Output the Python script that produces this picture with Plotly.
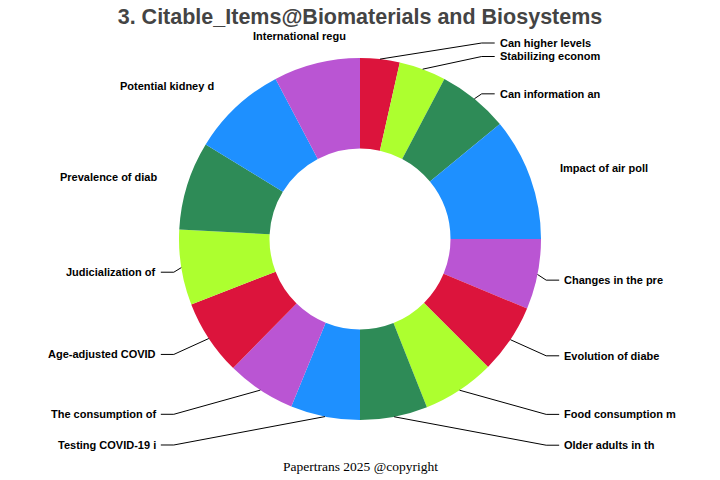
import math
import plotly.graph_objects as go

labels = [
    "Can higher levels ", "Stabilizing econom", "Can information an", "Impact of air poll",
    "Changes in the pre", "Evolution of diabe", "Food consumption m", "Older adults in th",
    "Testing COVID-19 i", "The consumption of", "Age-adjusted COVID", "Judicialization of",
    "Prevalence of diab", "Potential kidney d", "International regu",
]
values = [12.7, 15.1, 22.8, 39.4, 22.6, 22.4, 23.3, 21.7, 22.3, 22.2, 24.3, 24.2, 28.5, 30.7, 27.8]
palette = ["#DC143C", "#ADFF2F", "#2E8B57", "#1E90FF", "#BA55D3"]
colors = [palette[i % len(palette)] for i in range(len(labels))]

title_text = "3. Citable_Items@Biomaterials and Biosystems"
footer_text = "Papertrans 2025 @copyright"

# ---- layout geometry (pixels) ----
W, H = 720, 480
ML, MR, MT, MB = 80, 80, 58, 60
pw, ph = W - ML - MR, H - MT - MB
R = min(pw, ph) / 2.0
cx, cy = ML + pw / 2.0, MT + ph / 2.0
label_r = R * 1.16          # radius at which labels sit naturally
col_off = R * 1.117         # column used for labels with connectors
gap = 13.5                  # min vertical distance between labels
top_limit = MT - 15         # highest allowed label centre (px)


def to_paper(px, py):
    return (px - ML) / pw, 1 - (py - MT) / ph


# mid angles (deg, clockwise from 12 o'clock)
total = float(sum(values))
mids, acc = [], 0.0
for v in values:
    mids.append((acc + v / 2.0) / total * 360.0)
    acc += v

items = []
for i, a in enumerate(mids):
    t = math.radians(a)
    s, c = math.sin(t), math.cos(t)
    items.append(dict(
        i=i, s=s, c=c,
        ex=cx + R * s, ey=cy - R * c,                 # slice outer edge at mid angle
        nx=cx + label_r * s, ny=cy - label_r * c,     # natural label spot
        right=s > 0, centered=(s < 0 and c > 0 and abs(s) < 0.25),
    ))

# vertical de-overlap per side, top to bottom
for side in (True, False):
    grp = sorted([it for it in items if it["right"] == side and not it["centered"]],
                 key=lambda d: d["ny"])
    prev = None
    prev_moved = False
    for it in grp:
        y = max(it["ny"], top_limit if prev is None else prev + gap)
        moved = abs(y - it["ny"]) > 1.5
        if not moved and prev_moved and it["ny"] < cy:
            # first label after a pushed cluster makes room for the connectors
            y = it["ny"] + 1.3 * gap
            moved = True
            it["tail"] = True
        it["y"] = y
        it["moved"] = moved
        prev_moved = moved and not it.get("tail", False)
        prev = y
    # moved labels in upper half align with the cluster's last label
    for k, it in enumerate(grp):
        if it["ny"] < cy and it["moved"]:
            if it.get("tail"):
                it["x"] = it["nx"] + 5
            else:
                nxt = next((g for g in grp[k + 1:] if g.get("tail") or not g["moved"]), None)
                it["x"] = (nxt["nx"] if nxt is not None else it["nx"]) + 5
            it["line"] = True
        elif it["ny"] >= cy:
            it["x"] = cx + col_off if side else cx - col_off
            it["line"] = True
        else:
            it["x"] = it["nx"]
            it["line"] = False
for it in items:
    if it["centered"]:
        it["x"], it["y"], it["line"] = cx + label_r * it["s"] * 1.2, it["ny"] + 0.5, False

annotations, shapes = [], []
for it in items:
    sgn = 1 if it["right"] else -1
    if it["centered"]:
        anchor = "center"
    else:
        anchor = "left" if it["right"] else "right"
    ax, ay = to_paper(it["x"], it["y"])
    annotations.append(dict(
        text="<b>" + labels[it["i"]] + "</b>", xref="paper", yref="paper",
        x=ax, y=ay, xanchor=anchor, yanchor="middle", showarrow=False,
        font=dict(family="Liberation Sans, Arial", size=11, color="black"),
    ))
    if it["line"]:
        end_x = it["x"] - sgn * 3
        knee_x = end_x - sgn * 13
        p0 = to_paper(it["ex"], it["ey"])
        p1 = to_paper(knee_x, it["y"])
        p2 = to_paper(end_x, it["y"])
        for a_, b_ in ((p0, p1), (p1, p2)):
            shapes.append(dict(type="line", xref="paper", yref="paper",
                               x0=a_[0], y0=a_[1], x1=b_[0], y1=b_[1],
                               line=dict(color="black", width=1)))

annotations.append(dict(
    text=footer_text, xref="paper", yref="paper", x=0.5, y=to_paper(0, 466)[1],
    xanchor="center", yanchor="middle", showarrow=False,
    font=dict(family="Liberation Serif, Times New Roman", size=13.5, color="black"),
))

fig = go.Figure(go.Pie(
    labels=labels,
    values=values,
    hole=0.5,
    sort=False,
    direction="clockwise",
    rotation=0,
    marker=dict(colors=colors, line=dict(width=0)),
    textinfo="none",
    showlegend=False,
))

fig.update_layout(
    width=W, height=H,
    margin=dict(l=ML, r=MR, t=MT, b=MB),
    paper_bgcolor="white",
    plot_bgcolor="white",
    title=dict(
        text="<b>" + title_text + "</b>",
        x=0.5, xanchor="center", y=0.966, yanchor="middle",
        font=dict(family="Liberation Sans, Arial", size=21.5, color="#444444"),
    ),
    annotations=annotations,
    shapes=shapes,
)

fig.write_html("out.html")
